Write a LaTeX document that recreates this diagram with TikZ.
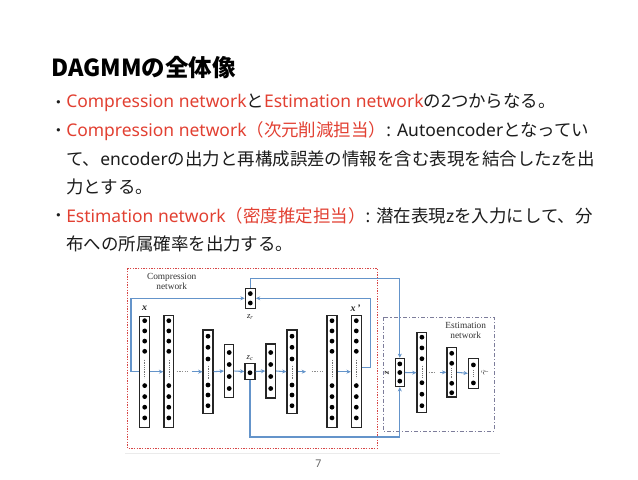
\documentclass[tikz,border=0pt]{standalone}
\usepackage{fontspec}
\setmainfont{Noto Sans}
\newfontfamily\jp{Noto Sans CJK JP}
\newcommand{\ja}[1]{{\jp #1}}
\newfontfamily\figserif{Liberation Serif}
\newfontfamily\bulfont{DejaVu Sans}
\usetikzlibrary{arrows.meta}
\definecolor{slred}{RGB}{226,64,50}
\definecolor{sltext}{RGB}{28,28,28}
\definecolor{lblue}{RGB}{100,148,202}
\definecolor{boxred}{RGB}{215,70,70}
\definecolor{boxgray}{RGB}{125,125,155}
\tikzset{
  txt/.style={anchor=west, inner sep=0pt, text=sltext, font=\fontsize{13.1}{16}\selectfont},
  bul/.style={inner sep=0pt, text=sltext, font=\bulfont\fontsize{8.5}{9}\selectfont},
  layerbox/.style={draw=black!85, line width=1pt, fill=white, inner sep=0pt},
  mid/.style={draw=black!55, line width=0.45pt, dash pattern=on 0.45pt off 0.9pt},
  flow/.style={draw=lblue, line width=0.8pt, -{Stealth[length=3.2pt,width=3pt]}},
  gapline/.style={draw=black!45, line width=0.5pt, dash pattern=on 1pt off 1pt},
  lbl/.style={inner sep=0pt, text=black!85, font=\figserif\fontsize{6.5}{7.5}\selectfont},
  netlbl/.style={inner sep=0pt, align=center, text=black!80, font=\figserif\fontsize{7}{7.6}\selectfont},
}
% name, cx, cy, half-height(px), width(px), dot offsets, mid from, mid to
\newcommand{\nnlayer}[8]{%
  \node[layerbox, minimum width={#5*0.75pt}, minimum height={#4*1.5pt}] (#1) at (#2,#3) {};
  \foreach \d in {#6} {\fill (#2,#3+\d) circle (1.8pt);}
  \draw[mid] (#2,#3+#7) -- (#2,#3+#8);
}
\begin{document}
\begin{tikzpicture}[x=0.75pt,y=-0.75pt]
\useasboundingbox (0,0) rectangle (638,479);
\fill[white] (0,0) rectangle (638,479);

% ---- title and bullets
\node[anchor=west, inner sep=0pt, text=black, font=\jp\fontsize{17.6}{21}\bfseries\selectfont] (title) at (51,68) {DAGMMの全体像};

\node[bul] (d1) at (58.5,103.5) {•};
\node[txt] (t1) at (66,103) {\textcolor{slred}{Compression network}\ja{と}\textcolor{slred}{Estimation network}\ja{の}2\ja{つからなる。}};
\node[bul] (d2) at (58.5,131.5) {•};
\node[txt] (t2) at (66,131) {\textcolor{slred}{Compression network\ja{（次元削減担当）}}: Autoencoder\ja{となってい}};
\node[txt] (t3) at (66,159) {\ja{て、}encoder\ja{の出力と再構成誤差の情報を含む表現を結合した}z\ja{を出}};
\node[txt] (t4) at (66,187) {\ja{力とする。}};
\node[bul] (d5) at (58.5,216.5) {•};
\node[txt] (t5) at (66,216) {\textcolor{slred}{Estimation network\ja{（密度推定担当）}}: \ja{潜在表現}z\ja{を入力にして、分}};
\node[txt] (t6) at (66,244) {\ja{布への所属確率を出力する。}};

% ---- diagram frame
\draw[black!8, line width=0.6pt] (125,453.5) -- (500,453.5);
\draw[boxred, line width=0.6pt, dash pattern=on 0.9pt off 1.1pt] (127.3,268.3) rectangle (377.3,448.3);
\draw[boxgray, line width=0.6pt, dash pattern=on 3pt off 1.5pt on 0.8pt off 1.5pt] (383.3,317) rectangle (494,431);

\node[netlbl] (cnet) at (171.7,281.5) {Compression\\network};
\node[netlbl] (enet) at (465.7,330.5) {Estimation\\network};

% ---- layers
\nnlayer{L1}{144.7}{371.7}{55.5}{9.8}{-51,-40.8,-30.6,-20.4,13.9,24.9,35.5,46.2}{-12}{6}
\nnlayer{L2}{168.8}{371.7}{56}{9.8}{-51,-40.8,-30.6,-20.4,13.9,24.9,35.5,46.2}{-12}{6}
\nnlayer{L3}{208}{371.7}{41.7}{9.8}{-35.5,-24.4,-12.7,13.3,23.3,34}{-6}{7}
\nnlayer{L4}{229.2}{371}{26.5}{9.2}{-18.5,-6.5,5.5,17.5}{0}{0}
\nnlayer{zc}{250}{371.5}{8}{10}{1.2}{0}{0}
\nnlayer{L5}{270.7}{371}{27}{9.6}{-18.5,-6.5,5.5,17.5}{0}{0}
\nnlayer{L6}{292}{371.7}{41.7}{9.8}{-35.5,-24.4,-12.7,13.3,23.3,34}{-6}{7}
\nnlayer{L7}{332}{371.7}{56}{9.8}{-51,-40.8,-30.6,-20.4,13.9,24.9,35.5,46.2}{-12}{6}
\nnlayer{L8}{356.3}{371.7}{56}{9.8}{-51,-40.8,-30.6,-20.4,13.9,24.9,35.5,46.2}{-12}{6}
\nnlayer{zr}{250.3}{298.3}{10}{10}{-4.7,4.7}{0}{0}
\nnlayer{zE}{399.8}{372.5}{14}{9}{-8.6,0,8.6}{0}{0}
\nnlayer{E1}{421.9}{372.7}{40}{9.6}{-35.5,-24.8,-14,10,21.5,33}{-7}{4}
\nnlayer{E2}{451.7}{372.3}{24.7}{9.6}{-19,-9,11,20.4}{-4}{6}
\nnlayer{E3}{473.4}{373.4}{15}{9.8}{-8.5,9.5}{-3}{3}

% ---- connectors
\coordinate (ga) at (176.7,371.7);
\coordinate (gb) at (188.3,371.7);
\coordinate (gc) at (191.7,371.7);
\coordinate (gd) at (306,371.7);
\coordinate (ge) at (311.7,371.7);
\coordinate (gf) at (323.3,371.7);
\coordinate (ea) at (428.5,372.7);
\coordinate (eb) at (435,372.7);
\coordinate (ec) at (439.5,372.3);

\draw[flow] (L1.west) -- (131,371.7) -- (131,298.3) -- (zr.west);
\draw[flow] ([yshift=3pt]L8.east) -| (370.7,298.3) -- (zr.east);
\draw[flow] (zr.north) |- (399.8,278.7) -- (zE.north);
\draw[flow] (zc.south) |- (399.8,437) -- (zE.south);

\draw[flow] (L1.east) -- (L2.west);
\draw[gapline] (ga) -- (gb);
\draw[flow] (gc) -- (L3.west);
\draw[flow] (L3.east) -- (L4.west);
\draw[flow] (L4.east) -- (zc.west);
\draw[flow] (zc.east) -- (L5.west);
\draw[flow] (L5.east) -- (L6.west);
\draw[flow] (L6.east) -- (gd);
\draw[gapline] (ge) -- (gf);
\draw[flow] (L7.east) -- (L8.west);

\draw[flow] (zE.east) -- (E1.west);
\draw[gapline] (ea) -- (eb);
\draw[flow] (ec) -- (E2.west);
\draw[flow] (E2.east) -- (E3.west);

% ---- labels
\node[lbl, font=\figserif\fontsize{7.5}{8.5}\selectfont] (lx) at (144.7,308.3) {\bfseries\itshape x};
\node[lbl, font=\figserif\fontsize{7.5}{8.5}\selectfont] (lxp) at (355.5,308.3) {\bfseries\itshape x\,’};
\node[lbl] (lzr) at (250.3,317.3) {\itshape z\textsubscript{r}};
\node[lbl] (lzc) at (250,358) {\itshape z\textsubscript{c}};
\node[lbl, rotate=90] (lz) at (387,372.5) {\bfseries\itshape z};
\node[lbl, rotate=90] (lg) at (484.5,372.3) {$\hat{\gamma}$};

% ---- page number
\node[inner sep=0pt, text=black!60, font=\fontsize{8}{9}\selectfont] (pg) at (318.5,463.5) {7};
\end{tikzpicture}
\end{document}
